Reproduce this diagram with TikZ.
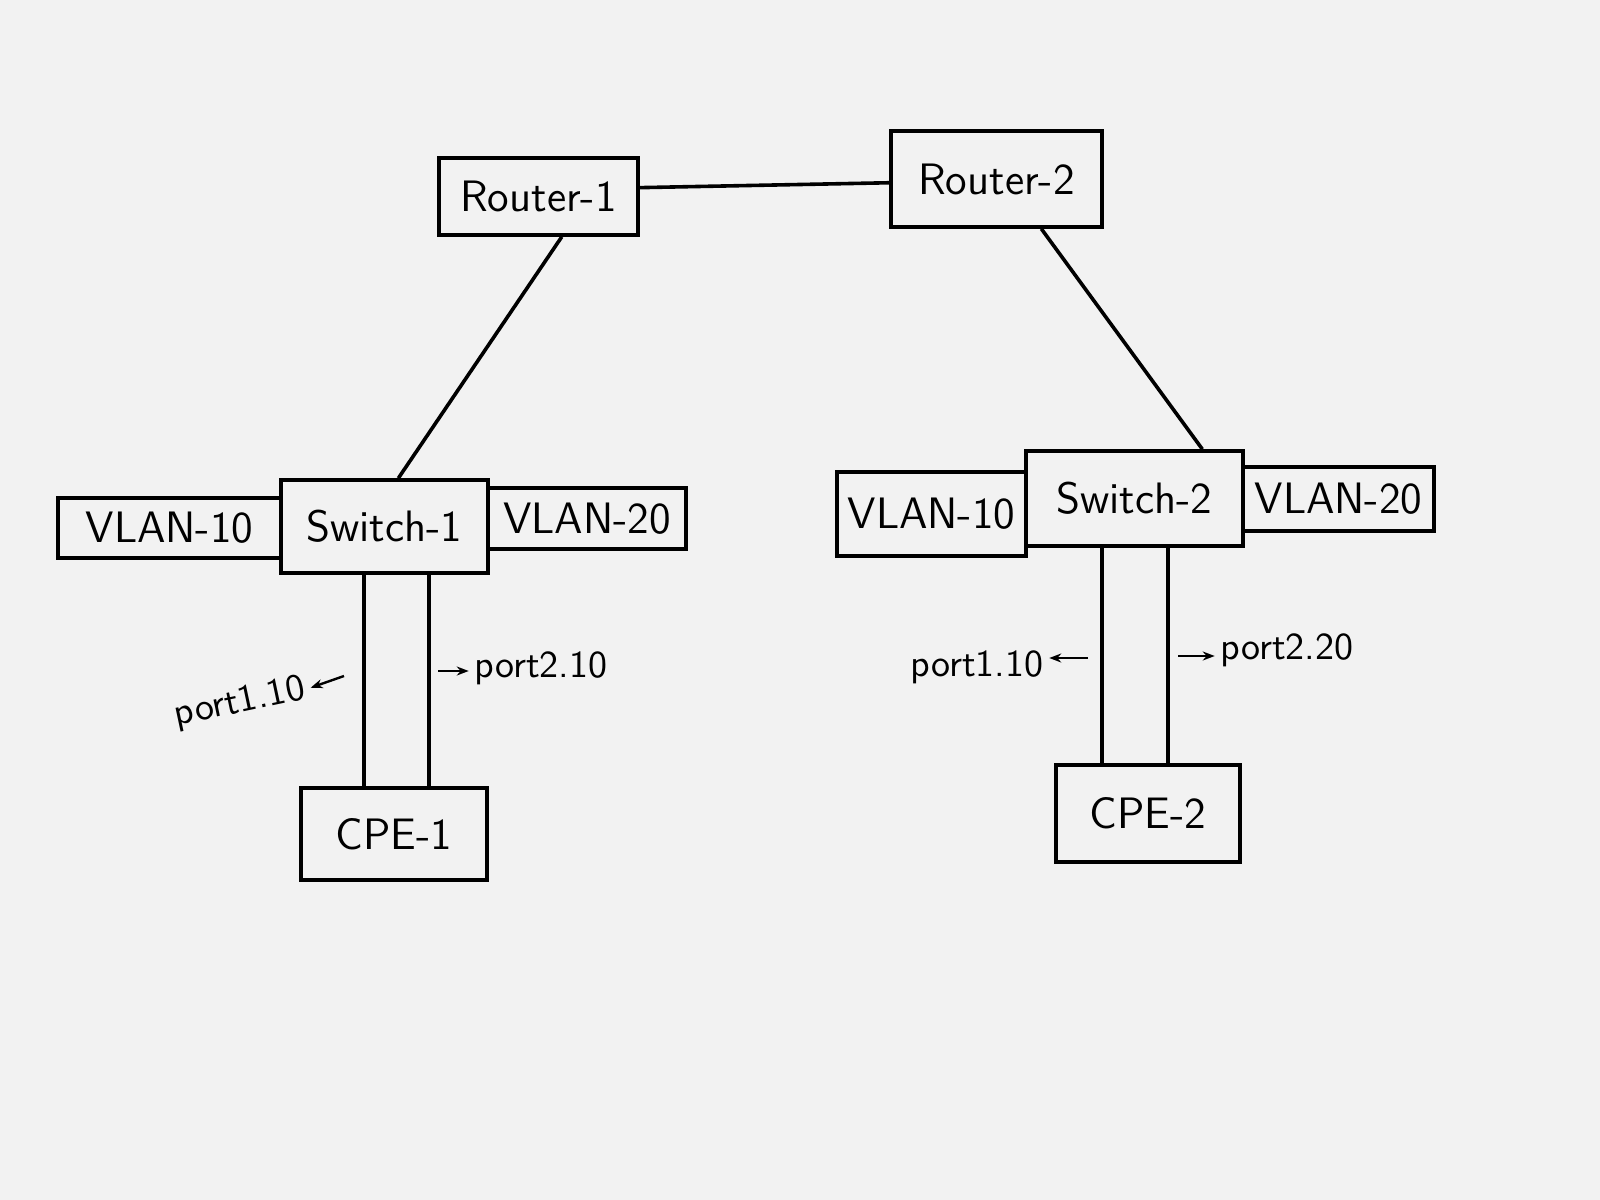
\documentclass[tikz,border=0pt]{standalone}
\usepackage{tikz}
\usetikzlibrary{arrows.meta}

\tikzset{
	netbox/.style={draw, line width=0.9pt, inner sep=0pt, font=\fontsize{11}{13}\sffamily},
	portlbl/.style={inner sep=0.75pt, font=\fontsize{9.5}{11}\sffamily},
	wire/.style={line width=0.9pt},
	portarrow/.style={line width=0.6pt, -{Stealth[length=3pt]}, shorten >=0.5pt}
}

\begin{document}
\begin{tikzpicture}[x=0.25pt,y=0.25pt,yscale=-1,xscale=1]
	%background and size of the picture
	\fill [black!5] (0,0) rectangle (1600,1200);
	\useasboundingbox (0,0) rectangle (1600,1200);

	%Shape: Rectangle [Router-1]
	\node [netbox, minimum width=49.75pt, minimum height=19.25pt] (r1) at (538.5,196.5) {Router-1};
	%Shape: Rectangle [Router-2]
	\node [netbox, minimum width=52.75pt, minimum height=24pt] (r2) at (996.5,179) {Router-2};
	%Shape: Rectangle [Switch-1]
	\node [netbox, minimum width=51.75pt, minimum height=23.25pt] (sw1) at (384.5,526.5) {Switch-1};
	%Shape: Rectangle [VLAN-10 left]
	\node [netbox, minimum width=55.75pt, minimum height=15pt] (vlan10a) at (169.5,528) {VLAN-10};
	%Shape: Rectangle [VLAN-20 left]
	\node [netbox, minimum width=49.5pt, minimum height=15.25pt] (vlan20a) at (587,518.5) {VLAN-20};
	%Shape: Rectangle [CPE-1]
	\node [netbox, minimum width=46.5pt, minimum height=23pt] (cpe1) at (394,834) {CPE-1};
	%Shape: Rectangle [Switch-2]
	\node [netbox, minimum width=54.25pt, minimum height=23.75pt] (sw2) at (1134.5,498.5) {Switch-2};
	%Shape: Rectangle [VLAN-10 right]
	\node [netbox, minimum width=47.25pt, minimum height=21pt] (vlan10b) at (931.5,514) {VLAN-10};
	%Shape: Rectangle [VLAN-20 right]
	\node [netbox, minimum width=47.75pt, minimum height=16pt] (vlan20b) at (1338.5,499) {VLAN-20};
	%Shape: Rectangle [CPE-2]
	\node [netbox, minimum width=46pt, minimum height=24.25pt] (cpe2) at (1148,813.5) {CPE-2};

	%Straight Lines [routers]
	\draw [wire] (r1.5) -- (r2.182);
	\draw [wire] (r1.-60) -- (sw1.74);
	\draw [wire] (r2.-48) -- (sw2.36);

	%Straight Lines [ports switch-1]
	\draw [wire] ([xshift=-5.1pt]sw1.south) -- ([xshift=-5.1pt]sw1.south |- cpe1.north);
	\draw [wire] ([xshift=11.1pt]sw1.south) -- ([xshift=11.1pt]sw1.south |- cpe1.north);
	%Straight Lines [ports switch-2]
	\draw [wire] ([xshift=-8.1pt]sw2.south) -- ([xshift=-8.1pt]sw2.south |- cpe2.north);
	\draw [wire] ([xshift=8.4pt]sw2.south) -- ([xshift=8.4pt]sw2.south |- cpe2.north);

	% Text Node
	\node [portlbl, rotate=12] (p11a) at (240,703) {port1.10};
	\coordinate (p11a arrow) at (344,676);
	\draw [portarrow] (p11a arrow) -- (p11a.east);
	% Text Node
	\node [portlbl] (p210a) at (541,668) {port2.10};
	\coordinate (p210a arrow) at (438,671);
	\draw [portarrow] (p210a arrow) -- (p210a.west |- p210a arrow);
	% Text Node
	\node [portlbl] (p11b) at (977,667) {port1.10};
	\coordinate (p11b arrow) at (1088,658);
	\draw [portarrow] (p11b arrow) -- (p11b.east |- p11b arrow);
	% Text Node
	\node [portlbl] (p220b) at (1287,650) {port2.20};
	\coordinate (p220b arrow) at (1178,656);
	\draw [portarrow] (p220b arrow) -- (p220b.west |- p220b arrow);

\end{tikzpicture}
\end{document}
